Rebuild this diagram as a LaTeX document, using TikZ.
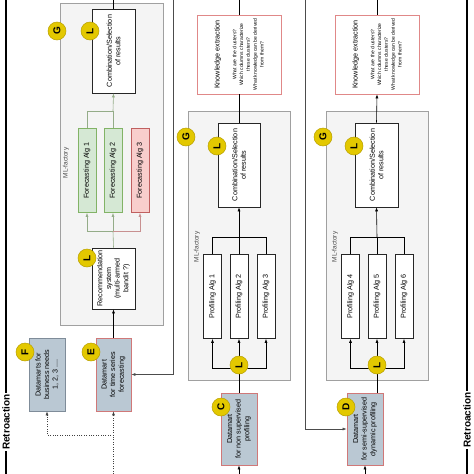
\documentclass[tikz,border=0pt]{standalone}
\usepackage{fontspec}
\setmainfont{Liberation Sans}
\usepackage{tikz}
\usetikzlibrary{positioning,shapes,arrows.meta,calc}
\definecolor{factgray}{HTML}{F4F4F4}
\definecolor{factline}{HTML}{A0A0A0}
\definecolor{algGreen}{HTML}{D5E8D4}
\definecolor{algGreenLine}{HTML}{82B366}
\definecolor{algRed}{HTML}{F8CECC}
\definecolor{algRedLine}{HTML}{C06060}
\definecolor{martBlue}{HTML}{BAC8D3}
\definecolor{martLine}{HTML}{D07878}
\definecolor{fLine}{HTML}{7F8C99}
\definecolor{keLine}{HTML}{E08888}
\definecolor{badgeYellow}{HTML}{E3C800}
\definecolor{badgeLine}{HTML}{B8A000}
\definecolor{flowG}{HTML}{94AC88}
\definecolor{flowR}{HTML}{C89090}
\tikzstyle{fact}=[%
      rectangle, draw=factline, fill=factgray, line width=0.6pt
]
\tikzstyle{factlbl}=[%
      rotate=90, text=black!70, inner sep=1pt, font=\fontsize{6.5}{7}\selectfont
]
\tikzstyle{blk}=[%
      rectangle, draw=black!85, fill=white, line width=0.6pt, rotate=90,
      align=center, inner sep=2pt, font=\fontsize{7.2}{8.6}\selectfont
]
\tikzstyle{alg}=[%
      blk, minimum width=84, minimum height=18
]
\tikzstyle{mart}=[%
      rectangle, fill=martBlue, line width=0.7pt, rotate=90,
      align=center, inner sep=2pt, font=\fontsize{7.2}{8.6}\selectfont
]
\tikzstyle{ke}=[%
      rectangle, draw=keLine, fill=white, line width=0.7pt, rotate=90,
      minimum width=79, minimum height=84, align=center, inner sep=2pt,
      font=\fontsize{5}{6.8}\selectfont
]
\tikzstyle{badge}=[%
      circle, fill=badgeYellow, draw=badgeLine, line width=0.5pt, rotate=90,
      minimum size=18, inner sep=0pt, font=\bfseries\fontsize{10}{10}\selectfont
]
\tikzstyle{retro}=[%
      rotate=90, fill=white, inner sep=1pt, font=\bfseries\fontsize{10}{11}\selectfont
]
\tikzstyle{dots}=[%
      black!75, line width=0.6pt, dash pattern=on 1pt off 1.4pt
]

\begin{document}
\begin{tikzpicture}[x=1pt, y=-1pt, line width=0.6pt,
    >={Latex[length=4pt,width=3pt]}
  ]
    \useasboundingbox (0,0) rectangle (474,474);

    % ML-factory frames
    \draw[fact] (60,3) rectangle (163,325);
    \draw[fact] (188,111) rectangle (290,380);
    \draw[fact] (326,111) rectangle (428,380);
    \node[factlbl] (mlL) at (66,163) {ML-factory};
    \node[factlbl] (mlC) at (197,247) {ML-factory};
    \node[factlbl] (mlD) at (335,247) {ML-factory};

    % forecasting column
    \node[blk, minimum width=84, minimum height=43] (combL) at (113.5,51) {Combination/Selection\\of results};
    \node[alg, fill=algGreen, draw=algGreenLine] (fa1) at (87,170.5) {Forecasting Alg 1};
    \node[alg, fill=algGreen, draw=algGreenLine] (fa2) at (113,170.5) {Forecasting Alg 2};
    \node[alg, fill=algRed, draw=algRedLine] (fa3) at (140,170.5) {Forecasting Alg 3};
    \node[blk, minimum width=61, minimum height=43] (recL) at (113.5,278.5) {Recommendation\\system\\(multi-armed\\bandit ?)};
    \node[mart, draw=martLine, minimum width=73, minimum height=35] (E) at (113.5,374.5) {Datamart\\for time series\\forecasting};
    \node[mart, draw=fLine, minimum width=73, minimum height=36] (F) at (47,374.5) {Datamarts for\\business needs\\1, 2, 3 ....};

    % non supervised column
    \node[ke] (keC) at (239,54.5) {{\fontsize{7.2}{8}\selectfont Knowledge extraction}\\[10pt]
      What are the clusters?\\Which columns characterize\\these clusters?\\What knowledge can be derived\\from them?};
    \node[blk, minimum width=84, minimum height=42] (combC) at (239,165) {Combination/Selection\\of results};
    \node[alg] (pa1) at (212.5,296.5) {Profiling Alg 1};
    \node[alg] (pa2) at (239,296.5) {Profiling Alg 2};
    \node[alg] (pa3) at (266,296.5) {Profiling Alg 3};
    \node[mart, draw=martLine, minimum width=72, minimum height=36] (C) at (239,429) {Datamart\\for non supervised\\profiling};

    % semi-supervised column
    \node[ke] (keD) at (377,54.5) {{\fontsize{7.2}{8}\selectfont Knowledge extraction}\\[10pt]
      What are the clusters?\\Which columns characterize\\these clusters?\\What knowledge can be derived\\from them?};
    \node[blk, minimum width=84, minimum height=43] (combD) at (376.5,165) {Combination/Selection\\of results};
    \node[alg] (pa4) at (350.5,296.5) {Profiling Alg 4};
    \node[alg] (pa5) at (377,296.5) {Profiling Alg 5};
    \node[alg] (pa6) at (404,296.5) {Profiling Alg 6};
    \node[mart, draw=martLine, minimum width=72, minimum height=36] (D) at (365,429) {Datamart\\for semi-supervised\\dynamic profiling};

    % retroaction
    \node[retro] (retroL) at (6,422) {Retroaction};
    \node[retro] (retroR) at (467,420) {Retroaction};

    % free ends
    \coordinate (topL) at (113.5,0);
    \coordinate (topC) at (239,0);
    \coordinate (topD) at (377,0);
    \coordinate (fbE) at (173,0);
    \coordinate (fbD) at (305,0);
    \coordinate (inE) at (113.5,474);
    \coordinate (splitE) at (113.5,435);
    \coordinate (inC) at (239,474);
    \coordinate (inD) at (365,474);
    \coordinate (joinL) at (113,111);
    \coordinate (forkL) at (113,231);
    \coordinate (joinC) at (239,237);
    \coordinate (forkC) at (239,368);
    \coordinate (joinD) at (377,237);
    \coordinate (forkD) at (377,368);

    \draw[line width=1.1pt] (6,0) -- (retroL.east);
    \draw[line width=1.1pt] (retroL.west) -- (6,474);
    \draw[line width=2pt] (467,0) -- (retroR.east);
    \draw[line width=2pt] (retroR.west) -- (467,474);

    % forecasting flow
    \draw (topL) -- (combL.east);
    \draw[->] (E.east) -- (recL.west);
    \draw[flowG] (recL.east) -- (forkL);
    \draw[flowG, ->] (forkL) -| (fa1.west);
    \draw[flowG, ->] (forkL) -- (fa2.west);
    \draw[flowR, ->] (forkL) -| (fa3.west);
    \draw[flowG] (fa1.east) |- (joinL);
    \draw[flowG] (fa2.east) -- (joinL);
    \draw[flowG, ->] (joinL) -- (combL.west);
    \draw[dots, ->] (inE) -- (E.west);
    \draw[dots, ->] (splitE) -| (F.west);
    \draw[black!70, ->] (fbE) |- (E.south);

    % profiling flows
    \draw (topC) -- (keC.east);
    \draw (keC.west) -- (combC.east);
    \draw[->] (joinC) -- (combC.west);
    \draw (pa1.east) |- (joinC);
    \draw (pa2.east) -- (joinC);
    \draw (pa3.east) |- (joinC);
    \draw (C.east) -- (forkC);
    \draw[->] (forkC) -| (pa1.west);
    \draw[->] (forkC) -- (pa2.west);
    \draw[->] (forkC) -| (pa3.west);
    \draw[->] (inC) -- (C.west);

    \draw (topD) -- (keD.east);
    \draw[->] (combD.east) -- (keD.west);
    \draw[->] (joinD) -- (combD.west);
    \draw (pa4.east) |- (joinD);
    \draw (pa5.east) -- (joinD);
    \draw (pa6.east) |- (joinD);
    \draw (forkD |- D.east) -- (forkD);
    \draw[->] (forkD) -| (pa4.west);
    \draw[->] (forkD) -- (pa5.west);
    \draw[->] (forkD) -| (pa6.west);
    \draw[->] (inD) -- (D.west);
    \draw[black!70, ->] (fbD) |- (D.north);

    % badges
    \node[badge] (gL) at (57,31) {G};
    \node[badge] (lCombL) at (90,31) {L};
    \node[badge] (lRecL) at (87,258) {L};
    \node[badge] (bE) at (91,352) {E};
    \node[badge] (bF) at (25,352) {F};
    \node[badge] (gC) at (186,137) {G};
    \node[badge] (lCombC) at (217,146) {L};
    \node[badge] (lForkC) at (239,365) {L};
    \node[badge] (bC) at (221,407) {C};
    \node[badge] (gD) at (323,137) {G};
    \node[badge] (lCombD) at (354,146) {L};
    \node[badge] (lForkD) at (377,365) {L};
    \node[badge] (bD) at (346,407) {D};

  \end{tikzpicture}
\end{document}
